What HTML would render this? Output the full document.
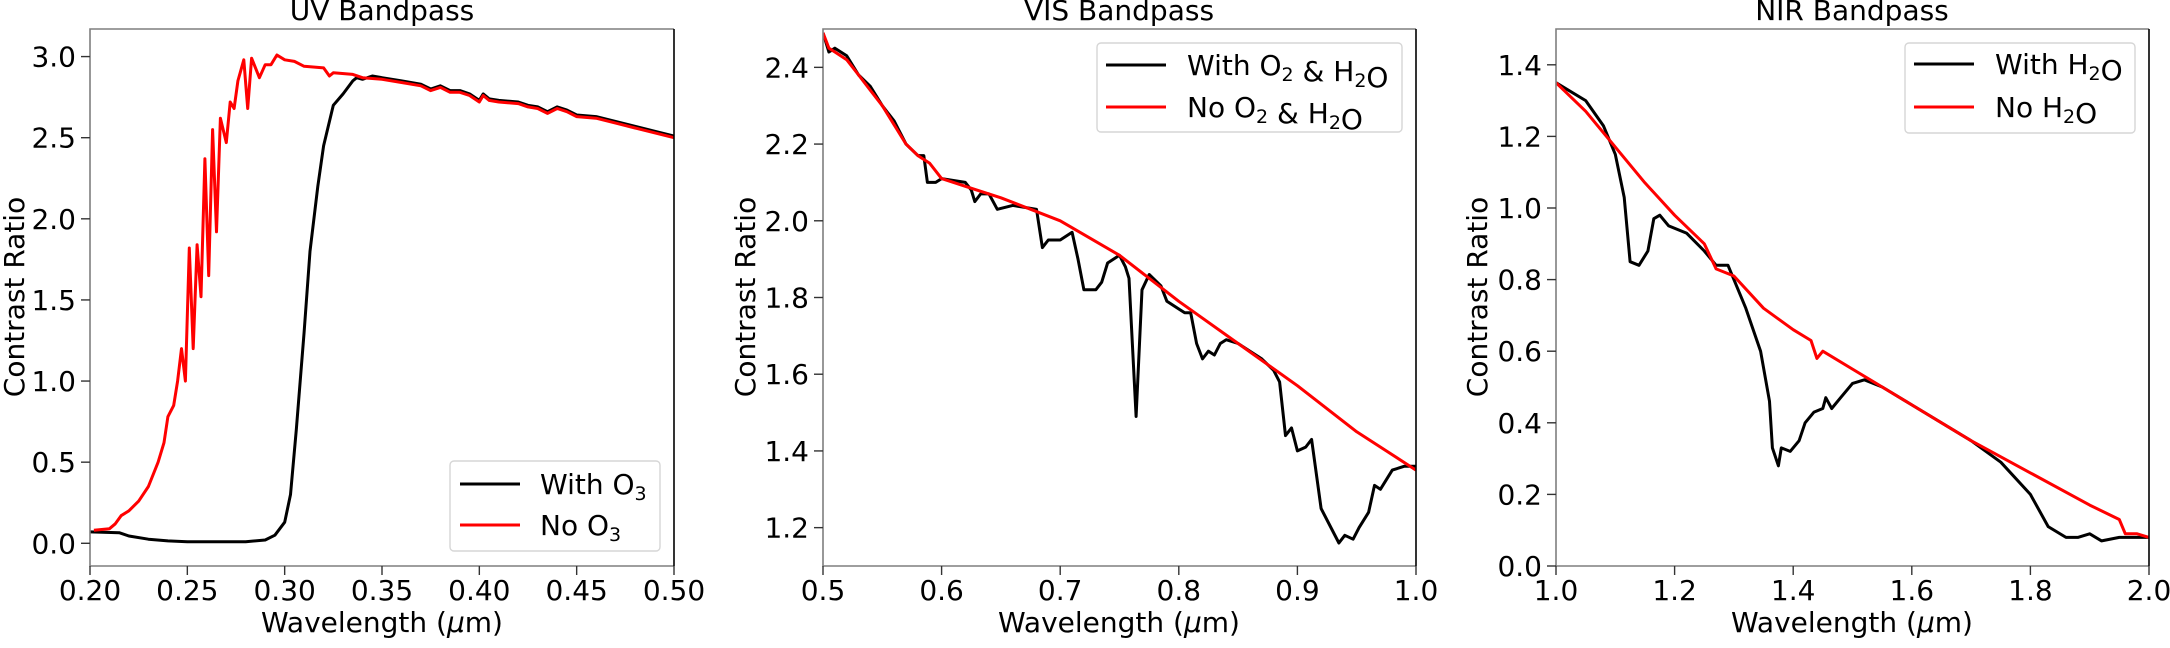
<!DOCTYPE html>
<html><head><meta charset="utf-8"><style>
html,body{margin:0;padding:0;background:#fff}
svg text{font-family:"DejaVu Sans","Liberation Sans",sans-serif;fill:#000}
</style></head><body>
<svg id="s" width="2170" height="643" xmlns="http://www.w3.org/2000/svg">
<text x="382" y="20" font-size="28" text-anchor="middle">UV Bandpass</text>
<text x="1119" y="20" font-size="28" text-anchor="middle">VIS Bandpass</text>
<text x="1852" y="20" font-size="28" text-anchor="middle">NIR Bandpass</text>
<text x="382" y="632" font-size="28" text-anchor="middle">Wavelength (<tspan font-style="italic">μ</tspan>m)</text>
<text x="1119" y="632" font-size="28" text-anchor="middle">Wavelength (<tspan font-style="italic">μ</tspan>m)</text>
<text x="1852" y="632" font-size="28" text-anchor="middle">Wavelength (<tspan font-style="italic">μ</tspan>m)</text>
<text transform="translate(24,297) rotate(-90)" font-size="28" text-anchor="middle">Contrast Ratio</text>
<text transform="translate(755,297) rotate(-90)" font-size="28" text-anchor="middle">Contrast Ratio</text>
<text transform="translate(1487,297) rotate(-90)" font-size="28" text-anchor="middle">Contrast Ratio</text>
<g id="g"></g>
</svg>
<script>
var g=document.getElementById('g'),h='';
function P(x0,x1,xa,xb,ya,yb,xt,xd,yt,yd,series,leg){
  var T=29,B=566;
  function X(v){return x0+(v-xa)/(xb-xa)*(x1-x0);}
  function Y(v){return B-(v-ya)/(yb-ya)*(B-T);}
  h+='<clipPath id="c'+x0+'"><rect x="'+x0+'" y="'+T+'" width="'+(x1-x0)+'" height="'+(B-T)+'"/></clipPath>';
  series.forEach(function(s){
    var d=s.d.map(function(p,i){return (i?'L':'M')+X(p[0]).toFixed(1)+','+Y(p[1]).toFixed(1);}).join('');
    h+='<path d="'+d+'" fill="none" stroke="'+s.c+'" stroke-width="3" stroke-linejoin="round" clip-path="url(#c'+x0+')"/>';
  });
  h+='<path d="M'+x1+','+T+'H'+x0+'V'+B+'H'+x1+'" fill="none" stroke="#7f7f7f" stroke-width="1.6"/>';
  h+='<line x1="'+x1+'" y1="'+T+'" x2="'+x1+'" y2="'+B+'" stroke="#000" stroke-width="1.6"/>';
  xt.forEach(function(v){var x=X(v);h+='<line x1="'+x+'" y1="'+B+'" x2="'+x+'" y2="'+(B+9)+'" stroke="#333" stroke-width="1.4"/><text x="'+x+'" y="600" font-size="28" text-anchor="middle">'+v.toFixed(xd)+'</text>';});
  yt.forEach(function(v){var y=Y(v);h+='<line x1="'+x0+'" y1="'+y+'" x2="'+(x0-9)+'" y2="'+y+'" stroke="#333" stroke-width="1.4"/><text x="'+(x0-14)+'" y="'+(y+10)+'" font-size="28" text-anchor="end">'+v.toFixed(yd)+'</text>';});
  h+='<rect x="'+leg.x+'" y="'+leg.y+'" width="'+leg.w+'" height="'+leg.h+'" rx="4" fill="#fff" fill-opacity="0.8" stroke="#d6d6d6" stroke-width="1.4"/>';
  leg.items.forEach(function(it,i){var y=leg.ly[i];h+='<line x1="'+leg.lx+'" y1="'+y+'" x2="'+(leg.lx+60)+'" y2="'+y+'" stroke="'+it[0]+'" stroke-width="3"/><text x="'+leg.tx+'" y="'+(y+10)+'" font-size="28">'+it[1]+'</text>';});
}
function sub(a){return a.replace(/_(\d)/g,'<tspan font-size="19" dy="6">$1</tspan><tspan dy="-6"></tspan>');}
var uvR=[[0.202,0.08],[0.21,0.09],[0.213,0.12],[0.216,0.17],[0.22,0.2],[0.225,0.26],[0.23,0.35],[0.235,0.5],[0.238,0.62],[0.24,0.78],[0.243,0.85],[0.245,1.0],[0.247,1.2],[0.249,1.0],[0.251,1.82],[0.253,1.2],[0.255,1.84],[0.257,1.52],[0.259,2.37],[0.261,1.65],[0.263,2.55],[0.265,1.92],[0.267,2.62],[0.27,2.47],[0.272,2.72],[0.274,2.68],[0.276,2.85],[0.279,2.98],[0.281,2.68],[0.283,2.99],[0.287,2.87],[0.29,2.95],[0.293,2.95],[0.296,3.01],[0.3,2.98],[0.305,2.97],[0.31,2.94],[0.32,2.93],[0.323,2.88],[0.325,2.9],[0.335,2.89],[0.34,2.87],[0.35,2.86],[0.36,2.84],[0.37,2.82],[0.375,2.79],[0.38,2.81],[0.385,2.78],[0.39,2.78],[0.395,2.76],[0.4,2.72],[0.402,2.76],[0.405,2.73],[0.41,2.72],[0.42,2.71],[0.425,2.69],[0.43,2.68],[0.435,2.65],[0.44,2.68],[0.445,2.66],[0.45,2.63],[0.46,2.62],[0.47,2.59],[0.48,2.56],[0.49,2.53],[0.5,2.5]];
var uvB=[[0.2,0.07],[0.215,0.065],[0.22,0.045],[0.23,0.025],[0.24,0.015],[0.25,0.01],[0.28,0.01],[0.29,0.02],[0.295,0.05],[0.3,0.13],[0.303,0.3],[0.306,0.7],[0.31,1.3],[0.313,1.8],[0.317,2.2],[0.32,2.45],[0.325,2.7],[0.33,2.77],[0.335,2.85],[0.337,2.87],[0.34,2.86],[0.345,2.88]].concat(uvR.filter(function(p){return p[0]>0.345;}).map(function(p){return [p[0],p[1]+0.01];}));
var visR=[[0.5,2.49],[0.505,2.45],[0.51,2.44],[0.52,2.42],[0.53,2.38],[0.54,2.34],[0.55,2.3],[0.56,2.25],[0.57,2.2],[0.58,2.17],[0.59,2.15],[0.6,2.11],[0.61,2.1],[0.62,2.09],[0.65,2.06],[0.7,2.0],[0.75,1.91],[0.8,1.79],[0.85,1.68],[0.9,1.57],[0.95,1.45],[0.975,1.4],[1.0,1.35]];
var visB=[[0.5,2.49],[0.505,2.44],[0.51,2.45],[0.52,2.43],[0.53,2.38],[0.54,2.35],[0.55,2.3],[0.56,2.26],[0.57,2.2],[0.58,2.17],[0.585,2.17],[0.588,2.10],[0.595,2.10],[0.6,2.11],[0.62,2.1],[0.625,2.08],[0.628,2.05],[0.633,2.07],[0.64,2.07],[0.647,2.03],[0.66,2.04],[0.68,2.03],[0.685,1.93],[0.69,1.95],[0.7,1.95],[0.71,1.97],[0.715,1.90],[0.72,1.82],[0.73,1.82],[0.735,1.84],[0.74,1.89],[0.75,1.91],[0.755,1.88],[0.758,1.85],[0.764,1.49],[0.769,1.82],[0.775,1.86],[0.785,1.83],[0.79,1.79],[0.8,1.77],[0.805,1.76],[0.81,1.76],[0.815,1.68],[0.82,1.64],[0.825,1.66],[0.83,1.65],[0.835,1.68],[0.84,1.69],[0.85,1.68],[0.86,1.66],[0.87,1.64],[0.88,1.61],[0.885,1.58],[0.89,1.44],[0.895,1.46],[0.9,1.40],[0.907,1.41],[0.912,1.43],[0.92,1.25],[0.935,1.16],[0.94,1.18],[0.947,1.17],[0.952,1.2],[0.96,1.24],[0.965,1.31],[0.97,1.3],[0.98,1.35],[0.99,1.36],[1.0,1.36]];
var nirR=[[1.0,1.35],[1.05,1.27],[1.1,1.17],[1.15,1.07],[1.2,0.98],[1.25,0.9],[1.27,0.83],[1.3,0.81],[1.35,0.72],[1.4,0.66],[1.43,0.63],[1.44,0.58],[1.45,0.6],[1.5,0.55],[1.55,0.5],[1.6,0.45],[1.7,0.35],[1.8,0.26],[1.9,0.17],[1.95,0.13],[1.96,0.09],[1.98,0.09],[2.0,0.08]];
var nirB=[[1.0,1.35],[1.05,1.3],[1.08,1.23],[1.1,1.15],[1.115,1.03],[1.125,0.85],[1.14,0.84],[1.155,0.88],[1.165,0.97],[1.175,0.98],[1.19,0.95],[1.22,0.93],[1.25,0.88],[1.27,0.84],[1.29,0.84],[1.32,0.72],[1.345,0.6],[1.36,0.46],[1.365,0.33],[1.375,0.28],[1.38,0.33],[1.395,0.32],[1.41,0.35],[1.42,0.4],[1.435,0.43],[1.45,0.44],[1.455,0.47],[1.465,0.44],[1.48,0.47],[1.5,0.51],[1.52,0.52],[1.55,0.5],[1.6,0.45],[1.7,0.35],[1.75,0.29],[1.8,0.2],[1.83,0.11],[1.86,0.08],[1.88,0.08],[1.9,0.09],[1.92,0.07],[1.95,0.08],[2.0,0.08]];
P(90,674,0.2,0.5,-0.14,3.17,[0.2,0.25,0.3,0.35,0.4,0.45,0.5],2,[0,0.5,1,1.5,2,2.5,3],1,[{d:uvB,c:'#000'},{d:uvR,c:'#f00'}],
 {x:450,y:461,w:210,h:90,lx:460,tx:540,ly:484,items:[['#000',sub('With O_3')],['#f00',sub('No O_3')]],ly:[484,525]});
P(823,1416,0.5,1.0,1.1,2.5,[0.5,0.6,0.7,0.8,0.9,1.0],1,[1.2,1.4,1.6,1.8,2.0,2.2,2.4],1,[{d:visB,c:'#000'},{d:visR,c:'#f00'}],
 {x:1097,y:43,w:305,h:89,lx:1106,tx:1187,items:[['#000',sub('With O_2 &amp; H_2O')],['#f00',sub('No O_2 &amp; H_2O')]],ly:[65,107]});
P(1556,2149,1.0,2.0,0,1.5,[1.0,1.2,1.4,1.6,1.8,2.0],1,[0,0.2,0.4,0.6,0.8,1.0,1.2,1.4],1,[{d:nirB,c:'#000'},{d:nirR,c:'#f00'}],
 {x:1905,y:43,w:230,h:90,lx:1914,tx:1995,items:[['#000',sub('With H_2O')],['#f00',sub('No H_2O')]],ly:[64,107]});
g.innerHTML=h;
</script>
</body></html>
